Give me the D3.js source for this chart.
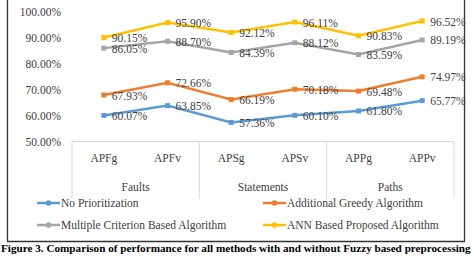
<!DOCTYPE html>
<html><head><meta charset="utf-8">
<script src="https://cdn.jsdelivr.net/npm/d3@7"></script>
<style>body{margin:0;background:#fff}svg{display:block}</style>
</head><body>
<script>
const categories = ["APFg","APFv","APSg","APSv","APPg","APPv"];
const groups = ["Faults","Statements","Paths"];
const seriesNames = ["No Prioritization","Additional Greedy Algorithm","Multiple Criterion Based Algorithm","ANN Based Proposed Algorithm"];
const noPrioritization = [60.07,63.85,57.36,60.10,61.80,65.77];
const additionalGreedy = [67.93,72.66,66.19,70.18,69.48,74.97];
const multipleCriterion = [86.05,88.70,84.39,88.12,83.59,89.19];
const annProposed = [90.15,95.90,92.12,96.11,90.83,96.52];
const yTicks = [50,60,70,80,90,100];
const colors = ["#5B9BD5","#ED7D31","#A5A5A5","#FFC000"];
const caption = "Figure 3. Comparison of performance for all methods with and without Fuzzy based preprocessing";

const allSeries = [noPrioritization, additionalGreedy, multipleCriterion, annProposed];
const W = 474, H = 257;
const svg = d3.select("body").append("svg").attr("width", W).attr("height", H);
const font = "Liberation Serif, Tinos, DejaVu Serif, serif";

// frame
svg.append("path").attr("d", "M7.5,0 V241.5 H464.5 V0").attr("fill","none").attr("stroke","#333").attr("stroke-width",1.3);

const x = d3.scaleBand().domain(categories).range([72, 454]);
const y = d3.scaleLinear().domain([50,100]).range([141.5, 12]);

// y axis labels
const yAxis = d3.axisLeft(y).tickValues(yTicks).tickSize(0).tickPadding(0).tickFormat(d => d.toFixed(2) + "%");
const ya = svg.append("g").attr("transform","translate(61,0)").call(yAxis);
ya.select(".domain").remove();
ya.selectAll("text").attr("font-family", font).attr("font-size", 11.5).attr("fill","#404040");

// x axis baseline
const gx = svg.append("g").attr("transform", `translate(0,${y(50)})`);
gx.append("line").attr("x1",72).attr("x2",454).attr("stroke","#d9d9d9").attr("stroke-width",1);
// group separators
const step = x.step();
[0,2,4,6].forEach(i => {
  const xx = 72 + i*step;
  svg.append("line").attr("x1",xx).attr("x2",xx).attr("y1",y(50)).attr("y2",199).attr("stroke","#d9d9d9").attr("stroke-width",1);
});
// category labels
svg.selectAll(".cat").data(categories).enter().append("text")
  .attr("x", d => x(d) + x.bandwidth()/2).attr("y", 162)
  .attr("text-anchor","middle").attr("font-family",font).attr("font-size",11.5).attr("fill","#404040").text(d => d);
svg.selectAll(".grp").data(groups).enter().append("text")
  .attr("x", (d,i) => 72 + (i*2+1)*step).attr("y", 191)
  .attr("text-anchor","middle").attr("font-family",font).attr("font-size",11.5).attr("fill","#404040").text(d => d);

// series
const line = d3.line().x((d,i) => x(categories[i]) + x.bandwidth()/2).y(d => y(d));
allSeries.forEach((vals, s) => {
  svg.append("path").attr("d", line(vals)).attr("fill","none").attr("stroke", colors[s]).attr("stroke-width",2.5);
  svg.selectAll(".m"+s).data(vals).enter().append("rect")
    .attr("x",(d,i) => x(categories[i]) + x.bandwidth()/2 - 2.5).attr("y", d => y(d) - 2.5)
    .attr("width",5).attr("height",5).attr("fill",colors[s]);
});
allSeries.forEach((vals, s) => {
  svg.selectAll(".l"+s).data(vals).enter().append("text")
    .attr("x",(d,i) => x(categories[i]) + x.bandwidth()/2 + 8).attr("y", d => y(d) + 4.5)
    .attr("font-family",font).attr("font-size",11.5).attr("fill","#404040").text(d => d.toFixed(2) + "%");
});

// legend
const legPos = [[37,203],[263,203],[37,225],[263,225]];
seriesNames.forEach((name, s) => {
  const [lx, ly] = legPos[s];
  const g = svg.append("g");
  g.append("line").attr("x1",lx).attr("x2",lx+23).attr("y1",ly).attr("y2",ly).attr("stroke",colors[s]).attr("stroke-width",2.5);
  g.append("circle").attr("cx",lx+11.5).attr("cy",ly).attr("r",2.8).attr("fill",colors[s]);
  g.append("text").attr("x",lx+24).attr("y",ly+4).attr("font-family",font).attr("font-size",11.5).attr("fill","#404040").text(name);
});

// caption, sized to fit the width naturally
const cap = svg.append("text").attr("x",1).attr("y",252).attr("font-family",font).attr("font-weight","bold").attr("font-size",12)
  .attr("fill","#000").text(caption);
const natural = cap.node().getComputedTextLength();
const fs = Math.min(12.5, 12 * 470 / natural);
cap.attr("font-size", fs);
</script>
</body></html>
